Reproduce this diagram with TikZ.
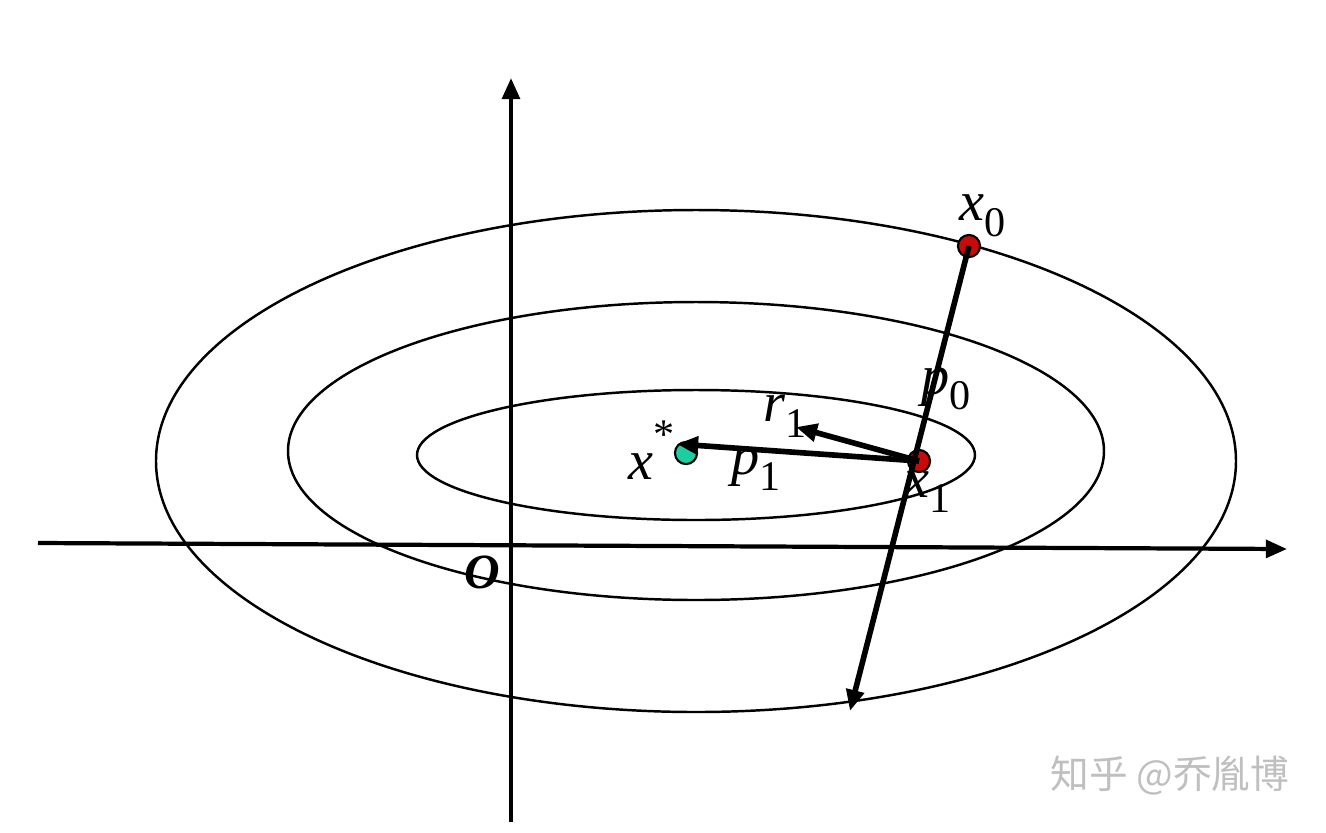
\documentclass[tikz,border=0pt]{standalone}
\usepackage{fontspec}
\setmainfont{Liberation Serif}
\newfontfamily\cjk{Noto Sans CJK SC}
\usetikzlibrary{positioning,calc,arrows.meta}

\definecolor{dotred}{RGB}{200,10,10}
\definecolor{dotgreen}{RGB}{30,205,160}
\newcommand{\lbl}[2]{\textit{#1}\raisebox{-0.6ex}{\fontsize{12}{12}\selectfont #2}}

\begin{document}
\begin{tikzpicture}[x=0.01cm, y=-0.01cm,
	axis/.style={line width=1.2pt, -{Triangle[length=6pt,width=5pt]}},
	level/.style={line width=0.7pt},
	vec/.style={line width=1.6pt, -{Triangle[length=6pt,width=5pt]}},
	dot/.style={circle, draw=black, line width=0.6pt, inner sep=0pt, minimum size=6.3pt}]
	\useasboundingbox (0,0) rectangle (1326,832);
	\begin{scope}
		\tikzstyle{every node}=[inner sep=1pt, font=\fontsize{16}{18}\selectfont]
		% level sets
		\draw [level] (696,461) ellipse [x radius=540, y radius=251];
		\draw [level] (696,451) ellipse [x radius=408, y radius=149];
		\draw [level] (696,455) ellipse [x radius=279, y radius=65];

		% axes
		\coordinate (xl) at (38,543);
		\coordinate (xr) at (1287,549);
		\coordinate (yb) at (511,822);
		\coordinate (yt) at (511,78);
		\draw [axis] (xl) to (xr);
		\draw [axis] (yb) to (yt);
		\node (o) at (482,572) {\fontsize{14}{14}\selectfont\textbf{\textit{O}}};

		% iterates
		\node [dot, fill=dotred] (x0) at (969,246) {};
		\node [dot, fill=dotred] (x1) at (919,461) {};
		\node [dot, fill=dotgreen] (xs) at (686,453) {};
		\coordinate (end) at (850,711);
		\coordinate (rt) at (796,427);
		\coordinate (st) at (677,444);

		\draw [vec] (x0.center) to (end);
		\draw [vec] (x1.center) to (st);
		\draw [vec] (x1.center) to (rt);

		% labels
		\node (lx0) at (983,216) {\lbl{x}{0}};
		\node (lp0) at (946,389) {\lbl{p}{0}};
		\node (lr1) at (785,416) {\lbl{r}{1}};
		\node (lp1) at (756,469) {\lbl{p}{1}};
		\node (lx1) at (928,492) {\lbl{x}{1}};
		\node (lxs) at (652,450) {\textit{x}\raisebox{1.2ex}{\fontsize{12}{12}\selectfont *}};

		\node [text=black!25, font=\cjk\fontsize{11}{12}\selectfont] (wm) at (1170,776) {知乎 @乔胤博};
	\end{scope}
\end{tikzpicture}
\end{document}
